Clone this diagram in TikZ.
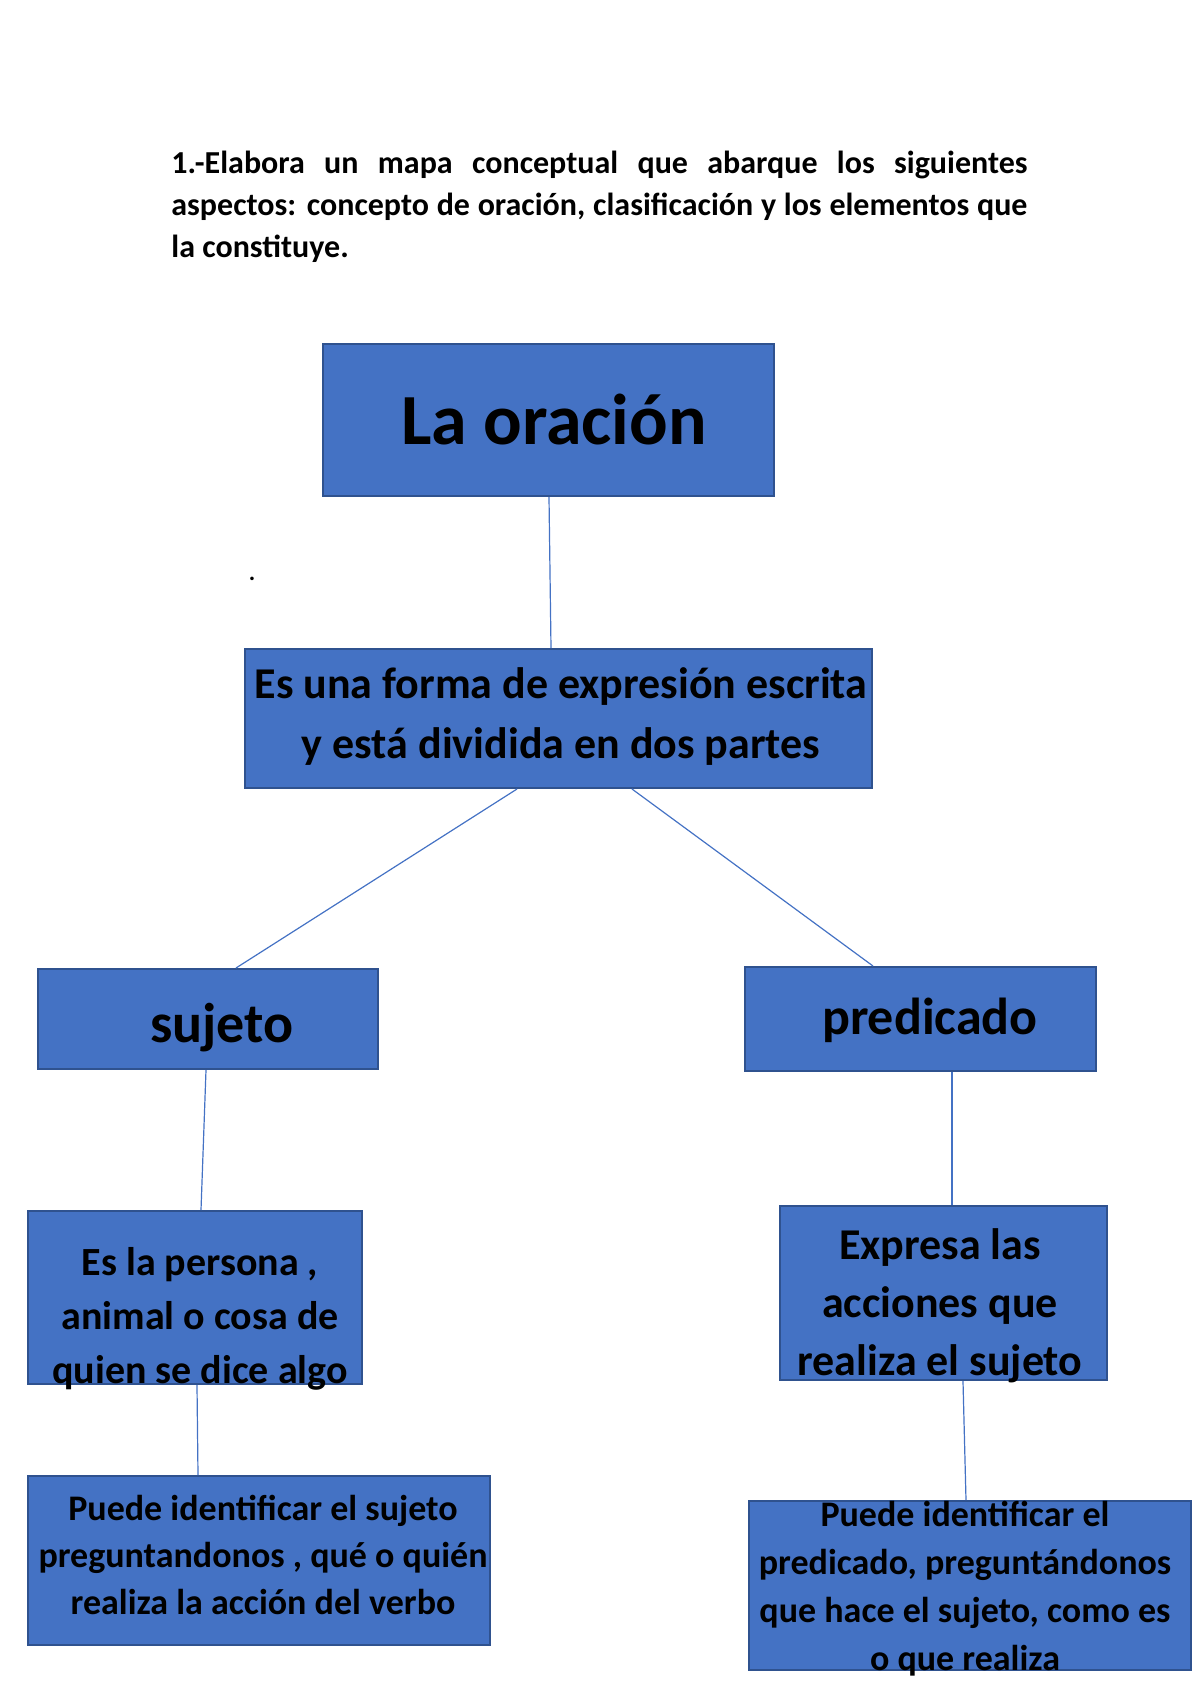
\documentclass[tikz,border=0pt]{standalone}
\usepackage{fontspec}
\setmainfont{Carlito}
\definecolor{boxfill}{RGB}{68,114,196}
\definecolor{boxline}{RGB}{47,82,143}

\begin{document}
\begin{tikzpicture}[x=0.5pt,y=0.5pt,yscale=-1,xscale=1,
  caja/.style={draw=boxline,fill=boxfill,line width=1pt,inner sep=0pt},
  texto/.style={font=\bfseries,align=center,inner sep=0pt},
  enlace/.style={draw=boxfill,line width=0.6pt}]
\useasboundingbox (0,0) rectangle (1200,1698);

%Text: enunciado
\node [anchor=north west,inner sep=0pt,text width=428pt,align=justify,
  font=\fontsize{16}{21}\selectfont\bfseries] (enun) at (171,151)
  {\hyphenpenalty=10000 1.-Elabora un mapa conceptual que abarque los siguientes\linebreak
  aspectos: concepto de oración, clasificación y los elementos que\linebreak
  la constituye.};
%Text: punto
\node [inner sep=0pt,font=\fontsize{12}{14}\selectfont\bfseries] (punto) at (252,579) {.};

%Shape: Rectangle [La oración]
\node [caja,minimum width=225.5pt,minimum height=76pt] (ora) at (548.5,420) {};
\node [texto,font=\fontsize{36}{44}\selectfont\bfseries] (oraT) at (554,419) {La oración};
%Shape: Rectangle [forma]
\node [caja,minimum width=313.5pt,minimum height=69.5pt] (forma) at (558.5,718.5) {};
\node [texto,font=\fontsize{22}{30}\selectfont\bfseries] (formaT) at (561,717)
  {Es una forma de expresión escrita\\ y está dividida en dos partes};
%Shape: Rectangle [sujeto]
\node [caja,minimum width=170pt,minimum height=50pt] (suj) at (208,1019) {};
\node [texto,anchor=base,font=\fontsize{28}{34}\selectfont\bfseries] (sujT) at (222,1042) {sujeto};
%Shape: Rectangle [predicado]
\node [caja,minimum width=175.5pt,minimum height=52pt] (pred) at (920.5,1019) {};
\node [texto,anchor=base,font=\fontsize{26}{32}\selectfont\bfseries] (predT) at (930,1034) {predicado};
%Shape: Rectangle [persona]
\node [caja,minimum width=167pt,minimum height=86.5pt] (pers) at (195,1297.5) {};
\node [texto,font=\fontsize{20}{27}\selectfont\bfseries] (persT) at (200,1319)
  {Es la persona ,\\ animal o cosa de\\ quien se dice algo};
%Shape: Rectangle [expresa]
\node [caja,minimum width=163.5pt,minimum height=87pt] (expr) at (943.5,1293) {};
\node [texto,font=\fontsize{22}{29}\selectfont\bfseries] (exprT) at (940,1306)
  {Expresa las\\ acciones que\\ realiza el sujeto};
%Shape: Rectangle [puede sujeto]
\node [caja,minimum width=231pt,minimum height=84.5pt] (pue1) at (259,1560.5) {};
\node [texto,font=\fontsize{18}{23.5}\selectfont\bfseries] (pue1T) at (263,1555)
  {Puede identificar el sujeto\\ preguntandonos , qué o quién\\ realiza la acción del verbo};
%Shape: Rectangle [puede predicado]
\node [caja,minimum width=221pt,minimum height=84.5pt] (pue2) at (970,1585.5) {};
\node [texto,font=\fontsize{18}{24}\selectfont\bfseries] (pue2T) at (965,1589)
  {Puede identificar el\\ predicado, preguntándonos\\ que hace el sujeto, como es\\ o que realiza};

%Straight Lines
\draw [enlace] ([xshift=0.25pt]ora.south) -- ([xshift=-3.75pt]forma.north);
\draw [enlace] ([xshift=-20.75pt]forma.south) -- ([xshift=14pt]suj.north);
\draw [enlace] ([xshift=36.75pt]forma.south) -- ([xshift=-23.75pt]pred.north);
\draw [enlace] ([xshift=-1pt]suj.south) -- ([xshift=3pt]pers.north);
\draw [enlace] ([xshift=15.75pt]pred.south) -- ([xshift=4.25pt]expr.north);
\draw [enlace] ([xshift=1pt]pers.south) -- ([xshift=-30.5pt]pue1.north);
\draw [enlace] ([xshift=9.75pt]expr.south) -- ([xshift=-2pt]pue2.north);

\end{tikzpicture}
\end{document}
